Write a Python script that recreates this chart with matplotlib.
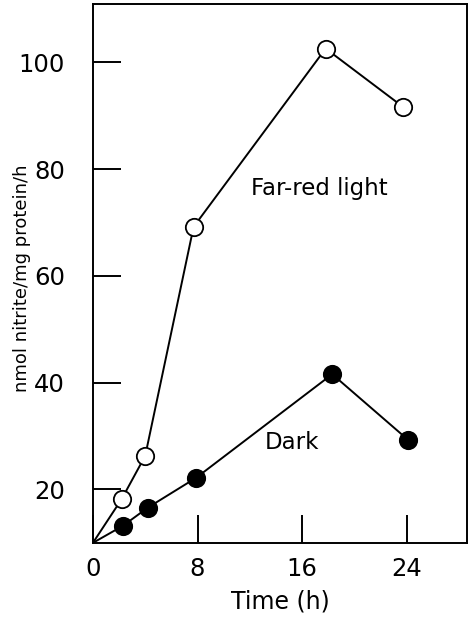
import matplotlib
matplotlib.use("Agg")
import matplotlib.pyplot as plt

# Data
far_red_t = [0, 2.2, 4.0, 7.7, 17.8, 23.7]
far_red_v = [10, 18.2, 26.3, 69.2, 102.6, 91.7]
dark_t = [0, 2.3, 4.2, 7.9, 18.3, 24.1]
dark_v = [10, 13.2, 16.6, 22.2, 41.6, 29.3]
x_ticks = [0, 8, 16, 24]
y_ticks = [20, 40, 60, 80, 100]

fig = plt.figure(figsize=(4.74, 6.19), dpi=100)
ax = fig.add_axes([0.196, 0.123, 0.789, 0.871])

ax.plot(far_red_t, far_red_v, color="black", lw=1.4, zorder=2)
ax.plot(far_red_t[1:], far_red_v[1:], "o", ms=12.5, mfc="white", mec="black", mew=1.3, zorder=3)
ax.plot(dark_t, dark_v, color="black", lw=1.4, zorder=2)
ax.plot(dark_t[1:], dark_v[1:], "o", ms=12.5, mfc="black", mec="black", mew=1.3, zorder=3)

ax.text(17.3, 76.3, "Far-red light", fontsize=16.5, ha="center", va="center")
ax.text(15.2, 28.8, "Dark", fontsize=16.5, ha="center", va="center")

ax.set_xlim(0, 28.6)
ax.set_ylim(10, 111)
ax.set_xticks(x_ticks)
ax.set_yticks(y_ticks)
ax.tick_params(direction="in", length=20, width=1.4, labelsize=17.5)
ax.tick_params(axis="y", pad=20)
ax.tick_params(axis="x", pad=10)
for s in ax.spines.values():
    s.set_linewidth(1.4)

ax.set_xlabel("Time (h)", fontsize=17, labelpad=6)
ax.set_ylabel("nmol nitrite/mg protein/h", fontsize=13)
ax.yaxis.set_label_coords(-0.165, 0.49)

fig.savefig("out.png", dpi=100)
